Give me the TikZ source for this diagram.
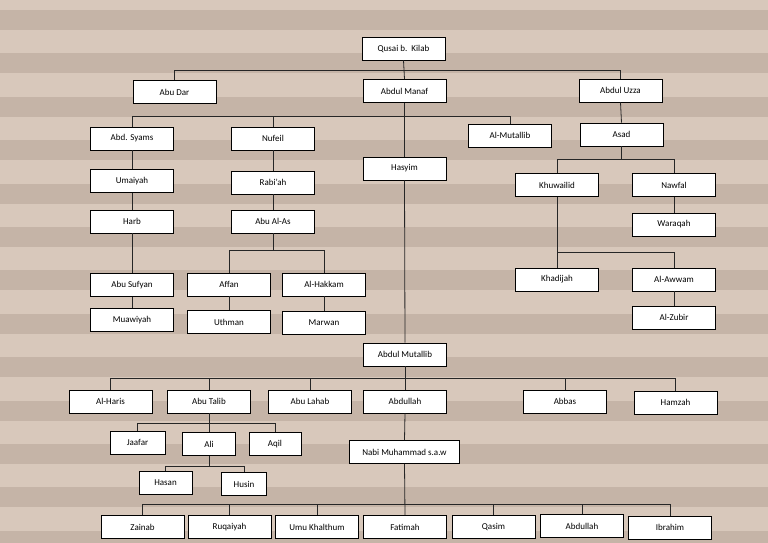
\documentclass[tikz,border=0pt]{standalone}
\usepackage{fontspec}
\setmainfont{Carlito}
\definecolor{bglight}{HTML}{D8C8BB}
\definecolor{bgdark}{HTML}{C5B4A7}
\begin{document}
\begin{tikzpicture}[x=1pt,y=-1pt,
  box/.style={draw=black,line width=0.9pt,fill=white,minimum width=83pt,minimum height=23pt,inner sep=0pt,font=\fontsize{9}{10}\selectfont},
  link/.style={draw=black!85,line width=0.8pt}]
\useasboundingbox (0,0) rectangle (768,543);
\fill[bglight] (0,0) rectangle (768,543);
\foreach \k in {0,...,11} {\fill[bgdark] (0,{10+43.4*\k}) rectangle (768,{30+43.4*\k});}
\fill[bgdark] (0,531) rectangle (768,543);
% nodes
\node[box] (qusai) at (403.5,48.5) {Qusai b.\ \ Kilab};
\node[box] (abudar) at (174.5,92) {Abu Dar};
\node[box] (manaf) at (404.5,91) {Abdul Manaf};
\node[box] (uzza) at (620.5,90.5) {Abdul Uzza};
\node[box] (syams) at (132,138.5) {Abd. Syams};
\node[box] (nufeil) at (273,138.5) {Nufeil};
\node[box] (mutallib) at (510,135.5) {Al-Mutallib};
\node[box] (asad) at (621.5,134.5) {Asad};
\node[box] (hasyim) at (404.5,168.5) {Hasyim};
\node[box] (umaiyah) at (132,181) {Umaiyah};
\node[box] (rabiah) at (273,182.5) {Rabi'ah};
\node[box] (harb) at (132,221.5) {Harb};
\node[box] (abualas) at (273,221.5) {Abu Al-As};
\node[box] (khuwailid) at (557,185) {Khuwailid};
\node[box] (nawfal) at (674,185) {Nawfal};
\node[box] (waraqah) at (674,224.5) {Waraqah};
\node[box] (khadijah) at (557,279.5) {Khadijah};
\node[box] (awwam) at (674,279.5) {Al-Awwam};
\node[box] (zubir) at (674,317.5) {Al-Zubir};
\node[box] (abusufyan) at (132,285) {Abu Sufyan};
\node[box] (muawiyah) at (132,320) {Muawiyah};
\node[box] (affan) at (229,284.5) {Affan};
\node[box] (hakkam) at (324,284.5) {Al-Hakkam};
\node[box] (uthman) at (229,322) {Uthman};
\node[box] (marwan) at (324,323) {Marwan};
\node[box] (amutallib) at (405,354.5) {Abdul Mutallib};
\node[box] (haris) at (110.5,401.5) {Al-Haris};
\node[box] (abutalib) at (209,401.5) {Abu Talib};
\node[box] (abulahab) at (310,401.5) {Abu Lahab};
\node[box] (abdullah) at (405,401.5) {Abdullah};
\node[box] (abbas) at (565,401.5) {Abbas};
\node[box] (hamzah) at (675.5,402.5) {Hamzah};
\node[box,minimum width=55pt] (jaafar) at (137.5,442.5) {Jaafar};
\node[box,minimum width=53pt] (ali) at (209,444) {Ali};
\node[box,minimum width=52pt] (aqil) at (275,444) {Aqil};
\node[box,minimum width=110pt] (nabi) at (404.5,452) {Nabi Muhammad s.a.w};
\node[box,minimum width=53pt] (hasan) at (165.5,483) {Hasan};
\node[box,minimum width=45pt] (husin) at (244,484) {Husin};
\node[box] (zainab) at (142.5,527) {Zainab};
\node[box] (ruqaiyah) at (229.5,527) {Ruqaiyah};
\node[box] (umu) at (317,527) {Umu Khalthum};
\node[box] (fatimah) at (405,527) {Fatimah};
\node[box] (qasim) at (493.5,527) {Qasim};
\node[box] (abdullahb) at (582,526) {Abdullah};
\node[box] (ibrahim) at (670,527.5) {Ibrahim};
% bus levels
\coordinate (b1) at (0,70);
\coordinate (b2) at (0,116);
\coordinate (b3) at (0,159);
\coordinate (b4) at (0,250);
\coordinate (b5) at (0,252);
\coordinate (b6) at (0,378);
\coordinate (b7) at (0,423);
\coordinate (b8) at (0,466);
\coordinate (b9) at (0,504);
% Qusai
\path[link] (abudar.north) -- (abudar.north |- b1) -- (uzza.north |- b1) -- (uzza.north);
\path[link] (qusai.south) -- (manaf.north);
% Abdul Manaf
\path[link] (syams.north) -- (syams.north |- b2) -- (mutallib.north |- b2) -- (mutallib.north);
\path[link] (nufeil.north) -- (nufeil.north |- b2);
\path[link] (manaf.south) -- (hasyim.north);
% Abd Syams chain
\path[link] (syams.south) -- (umaiyah.north);
\path[link] (umaiyah.south) -- (harb.north);
\path[link] (harb.south) -- (abusufyan.north);
\path[link] (abusufyan.south) -- (muawiyah.north);
% Nufeil chain
\path[link] (nufeil.south) -- (rabiah.north);
\path[link] (rabiah.south) -- (abualas.north);
\path[link] (abualas.south) -- (abualas.south |- b4);
\path[link] (affan.north) -- (affan.north |- b4) -- (hakkam.north |- b4) -- (hakkam.north);
\path[link] (affan.south) -- (uthman.north);
\path[link] (hakkam.south) -- (marwan.north);
% Abdul Uzza
\path[link] (uzza.south) -- (asad.north);
\path[link] (asad.south) -- (asad.south |- b3);
\path[link] (khuwailid.north) -- (khuwailid.north |- b3) -- (nawfal.north |- b3) -- (nawfal.north);
\path[link] (nawfal.south) -- (waraqah.north);
\path[link] (khuwailid.south) -- (khadijah.north);
\path[link] (khuwailid.south |- b5) -- (awwam.north |- b5) -- (awwam.north);
\path[link] (awwam.south) -- (zubir.north);
% spine
\path[link] (hasyim.south) -- (amutallib.north);
\path[link] (haris.north) -- (haris.north |- b6) -- (hamzah.north |- b6) -- (hamzah.north);
\path[link] (abutalib.north) -- (abutalib.north |- b6);
\path[link] (abulahab.north) -- (abulahab.north |- b6);
\path[link] (abbas.north) -- (abbas.north |- b6);
\path[link] (amutallib.south) -- (abdullah.north);
\path[link] (abdullah.south) -- (nabi.north);
% Abu Talib
\path[link] (abutalib.south) -- (ali.north);
\path[link] (jaafar.north) -- (jaafar.north |- b7) -- (aqil.north |- b7) -- (aqil.north);
% Ali
\path[link] (ali.south) -- (ali.south |- b8);
\path[link] (hasan.north) -- (hasan.north |- b8) -- (husin.north |- b8) -- (husin.north);
% Nabi
\path[link] (nabi.south) -- (fatimah.north);
\path[link] (zainab.north) -- (zainab.north |- b9) -- (ibrahim.north |- b9) -- (ibrahim.north);
\path[link] (ruqaiyah.north) -- (ruqaiyah.north |- b9);
\path[link] (umu.north) -- (umu.north |- b9);
\path[link] (qasim.north) -- (qasim.north |- b9);
\path[link] (abdullahb.north) -- (abdullahb.north |- b9);
\end{tikzpicture}
\end{document}
